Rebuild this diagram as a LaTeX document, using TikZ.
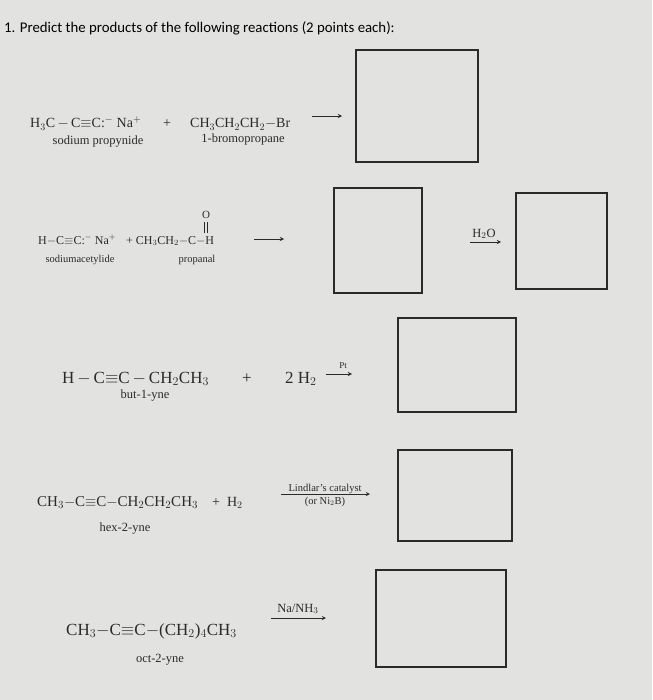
\documentclass[tikz,border=0pt]{standalone}
\usepackage{fontspec}
\setmainfont{Liberation Serif}
\newfontfamily\titlefont{Carlito}
\definecolor{paper}{HTML}{E2E2E0}
\definecolor{ink}{HTML}{2A2A2A}
\begin{document}
\begin{tikzpicture}[x=1pt,y=-1pt,
  box/.style={draw=ink,line width=1.8pt},
  chem/.style={font=\fontsize{14}{16}\selectfont,text=ink,inner sep=0,anchor=base west},
  big/.style={font=\fontsize{17}{19}\selectfont,text=ink,inner sep=0,anchor=base west},
  lab/.style={font=\fontsize{12.5}{14}\selectfont,text=ink,inner sep=0,anchor=base},
  rx/.style={-stealth,draw=ink,line width=0.9pt}]
\useasboundingbox[fill=paper] (0,0) rectangle (652,700);
\node[anchor=base west,inner sep=0,font=\titlefont\fontsize{14.8}{17}\selectfont] (title) at (4,33) {1. Predict the products of the following reactions (2 points each):};
% boxes
\draw[box] (356,50) rectangle (478,162);
\draw[box] (334,188) rectangle (422,293);
\draw[box] (516,193) rectangle (607,289);
\draw[box] (398,318) rectangle (516,412);
\draw[box] (398,450) rectangle (512,541);
\draw[box] (376,570) rectangle (506,667);
% reaction 1
\node[chem] (r1a) at (30,128) {H$_3$C$\,-\,$C$\equiv$C:$^-$ Na$^+$};
\node[chem] (r1p) at (163,128) {+};
\node[chem] (r1b) at (190,128) {CH$_3$CH$_2$CH$_2$$-$Br};
\node[lab] (r1l1) at (98,145) {sodium propynide};
\node[lab] (r1l2) at (243,143) {1-bromopropane};
\coordinate (a1s) at (312,116); \coordinate (a1e) at (342,116);
\draw[rx] (a1s) -- (a1e);
% reaction 2
\node[chem,font=\fontsize{12}{14}\selectfont] (r2a) at (38,244) {H$-$C$\equiv$C:$^-$ Na$^+$};
\node[chem,font=\fontsize{12}{14}\selectfont] (r2b) at (126,244) {+ CH$_3$CH$_2$$-$C$-$H};
\node[lab,font=\fontsize{11}{13}\selectfont] (r2o) at (206,219) {O};
\draw[ink,line width=0.7pt] (204.6,222) -- (204.6,233) (207.4,222) -- (207.4,233);
\node[lab,font=\fontsize{10.5}{12}\selectfont] (r2l1) at (80,262) {sodiumacetylide};
\node[lab,font=\fontsize{10.5}{12}\selectfont] (r2l2) at (197,262) {propanal};
\coordinate (a2s) at (254,239); \coordinate (a2e) at (284,239);
\draw[rx] (a2s) -- (a2e);
\coordinate (a3s) at (470,242); \coordinate (a3e) at (501,242);
\draw[rx] (a3s) -- (a3e);
\node[lab] (h2o) at (484,237) {H$_2$O};
% reaction 3
\node[big] (r3a) at (62,383) {H$\,-\,$C$\equiv$C$\,-\,$CH$_2$CH$_3$};
\node[big] (r3p) at (242,383) {+};
\node[big] (r3b) at (285,383) {2 H$_2$};
\node[lab] (r3l) at (145,398) {but-1-yne};
\coordinate (a4s) at (326,374); \coordinate (a4e) at (352,374);
\draw[rx] (a4s) -- (a4e);
\node[lab,font=\fontsize{9}{10}\selectfont] (pt) at (343,368) {Pt};
% reaction 4
\node[chem,font=\fontsize{15}{17}\selectfont] (r4a) at (37,506) {CH$_3$$-$C$\equiv$C$-$CH$_2$CH$_2$CH$_3$};
\node[chem] (r4b) at (212,506) {+ \ H$_2$};
\node[lab] (r4l) at (125,531) {hex-2-yne};
\coordinate (a5s) at (281,494); \coordinate (a5e) at (370,494);
\draw[rx] (a5s) -- (a5e);
\node[lab,font=\fontsize{10.5}{12}\selectfont] (lind) at (325,491) {Lindlar's catalyst};
\node[lab,font=\fontsize{10.5}{12}\selectfont] (ni) at (325,504) {(or Ni$_2$B)};
% reaction 5
\node[big,font=\fontsize{17}{19}\selectfont] (r5a) at (66,635) {CH$_3$$-$C$\equiv$C$-$(CH$_2$)$_4$CH$_3$};
\node[lab] (r5l) at (160,662) {oct-2-yne};
\coordinate (a6s) at (271,618); \coordinate (a6e) at (326,618);
\draw[rx] (a6s) -- (a6e);
\node[lab] (nanh) at (298,612) {Na/NH$_3$};
\end{tikzpicture}
\end{document}
